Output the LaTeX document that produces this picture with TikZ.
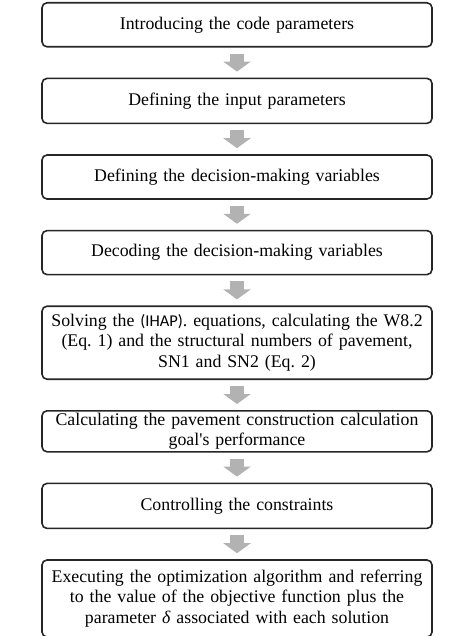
\documentclass[tikz,border=0pt]{standalone}
\usepackage{fontspec}
\setmainfont{Liberation Serif}
\newfontfamily\ihapfont{Carlito}
\usetikzlibrary{positioning,arrows.meta}
\frenchspacing
\begin{document}
\begin{tikzpicture}[
			x=1pt, y=-1pt,
			stage/.style = {draw=black!85, line width=1.6pt, rounded corners=5pt, fill=white,
				text width=384pt, inner xsep=3pt, inner ysep=1pt, minimum height=44pt,
				align=center, font=\fontsize{17.8}{20.5}\selectfont},
			flow/.style = {draw=black!30, line width=14pt, shorten <=6pt, shorten >=6pt,
				-{Triangle[width=27pt,length=10pt]}},
			node distance=30pt,
			]
			\useasboundingbox (0,0) rectangle (474,636);
			\node[stage, anchor=north] (intro) at (237,2) {Introducing the code parameters};
			\node[stage, below=of intro, minimum height=45pt] (input) {Defining the input parameters};
			\node[stage, below=of input] (define) {Defining the decision-making variables};
			\node[stage, below=of define] (decode) {Decoding the decision-making variables};
			\node[stage, below=of decode, minimum height=73pt] (solve) {Solving the {\ihapfont\fontsize{16.5}{20.5}\selectfont (IHAP)}. equations, calculating the W8.2\\(Eq. 1) and the structural numbers of pavement,\\SN1 and SN2 (Eq. 2)};
			\node[stage, below=of solve, minimum height=41pt] (calc) {Calculating the pavement construction calculation\\goal\textquotesingle s performance};
			\node[stage, below=of calc, minimum height=45pt] (check) {Controlling the constraints};
			\node[stage, below=of check, minimum height=77pt] (exec) {Executing the optimization algorithm and referring\\to the value of the objective function plus the\\parameter \textit{δ} associated with each solution};
			\foreach \a/\b in {intro/input, input/define, define/decode, decode/solve, solve/calc, calc/check, check/exec}
				\draw[flow] (\a) -- (\b);
		\end{tikzpicture}
\end{document}
